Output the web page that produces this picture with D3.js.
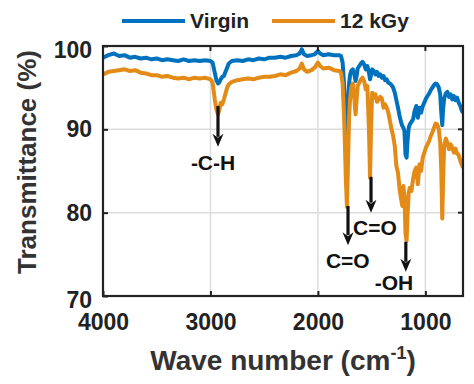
<!DOCTYPE html>
<html>
<head>
<meta charset="utf-8">
<script src="https://d3js.org/d3.v7.min.js"></script>
<style>
  body { margin: 0; background: #fff; }
  svg { display: block; font-family: "Liberation Sans", Arial, sans-serif; font-weight: bold; }
</style>
</head>
<body>
<svg id="chart"></svg>
<script>
// wavenumber grid (cm-1) shared by both spectra
var wavenumber = [
  4000, 3950, 3900, 3850, 3800, 3750, 3700, 3650, 3600, 3550,
  3500, 3450, 3400, 3350, 3300, 3250, 3200, 3150, 3100, 3050,
  3000, 2980, 2960, 2945, 2930, 2920, 2905, 2890, 2875, 2860,
  2845, 2830, 2800, 2750, 2700, 2650, 2600, 2550, 2500, 2450,
  2400, 2350, 2300, 2250, 2200, 2170, 2150, 2130, 2100, 2060,
  2030, 2000, 1980, 1950, 1900, 1850, 1800, 1785, 1770, 1755,
  1740, 1730, 1720, 1710, 1700, 1690, 1675, 1660, 1650, 1640,
  1630, 1615, 1600, 1585, 1570, 1555, 1540, 1525, 1515, 1505,
  1495, 1480, 1465, 1450, 1435, 1420, 1405, 1390, 1375, 1360,
  1345, 1330, 1315, 1300, 1285, 1270, 1255, 1240, 1225, 1215,
  1205, 1195, 1185, 1175, 1165, 1155, 1145, 1130, 1115, 1100,
  1085, 1070, 1055, 1040, 1025, 1010, 995, 980, 965, 950,
  935, 920, 905, 890, 875, 862, 852, 843, 835, 825,
  810, 795, 780, 765, 750, 735, 720, 705, 690, 675,
  660, 650
];
var virgin = [
  98.6, 98.9, 99.1, 98.8, 98.9, 98.6, 98.7, 98.5, 98.6, 98.4,
  98.5, 98.3, 98.4, 98.3, 98.2, 98.4, 98.2, 98.3, 98.2, 98.3,
  98.2, 98.0, 96.8, 95.9, 95.5, 95.6, 96.0, 96.3, 96.4, 96.9,
  97.4, 97.9, 98.2, 98.3, 98.2, 98.4, 98.3, 98.5, 98.4, 98.6,
  98.6, 98.7, 98.6, 98.8, 98.9, 99.1, 99.6, 99.0, 98.8, 98.9,
  99.0, 99.4, 99.1, 98.9, 99.0, 98.9, 98.9, 98.8, 98.0, 95.0,
  91.0, 89.5, 92.5, 95.5, 96.6, 97.0, 97.2, 96.5, 95.8, 96.4,
  97.3, 97.6, 97.9, 98.1, 97.8, 97.2, 97.6, 96.8, 96.0, 96.6,
  97.2, 97.0, 96.6, 96.9, 96.4, 96.6, 96.2, 96.4, 95.9, 96.0,
  95.6, 95.5, 95.3, 95.0, 94.4, 93.5, 92.6, 91.6, 90.8, 90.4,
  90.2, 89.8, 87.0, 86.6, 88.8, 90.2, 90.6, 90.9, 91.2, 92.2,
  92.8, 91.4, 92.6, 92.0, 92.8, 93.2, 93.7, 94.0, 94.3, 94.7,
  95.0, 95.3, 95.5, 95.4, 95.0, 94.2, 92.0, 90.5, 92.5, 93.7,
  94.3, 94.5, 93.9, 94.2, 93.6, 94.0, 93.5, 93.8, 93.2, 92.8,
  92.2, 92.0
];
var gy12 = [
  96.6, 96.9, 97.0, 97.1, 97.2, 97.0, 97.1, 96.8, 96.7, 96.5,
  96.5, 96.3, 96.4, 96.2, 96.1, 96.2, 96.0, 96.2, 96.1, 96.2,
  96.0, 95.6, 93.6, 92.4, 91.8, 92.2, 93.2, 93.0, 93.6, 94.3,
  95.0, 95.4, 95.7, 95.9, 96.0, 96.1, 96.0, 96.2, 96.3, 96.3,
  96.4, 96.6, 96.5, 96.8, 97.0, 97.3, 97.9, 97.2, 96.9, 97.1,
  97.4, 98.0, 97.6, 97.3, 97.4, 97.1, 97.0, 96.8, 95.5, 91.0,
  84.0, 80.7, 86.0, 91.5, 93.8, 95.0, 95.5, 93.5, 91.8, 93.5,
  95.2, 95.6, 96.0, 96.2, 95.8, 94.8, 95.2, 90.0, 84.2, 90.5,
  94.4, 93.8, 94.2, 93.3, 93.6, 93.9, 93.7, 92.6, 93.0, 92.6,
  92.0, 91.0, 90.0, 89.2, 88.0, 85.6, 84.8, 82.8, 81.6, 80.8,
  83.2, 82.0, 77.5, 76.6, 80.0, 82.4, 83.0, 82.6, 84.0, 85.0,
  85.4, 83.4, 85.8, 85.0, 86.6, 87.2, 87.8, 88.2, 88.6, 89.2,
  89.6, 90.2, 90.7, 90.6, 90.0, 88.4, 85.0, 79.3, 84.0, 88.1,
  88.9, 88.4, 87.6, 88.2, 87.8, 87.2, 87.7, 87.1, 86.9, 86.2,
  85.7, 85.4
];

var seriesNames = ["Virgin", "12 kGy"];
var seriesColors = ["#0072BD", "#E38A17"];
var xTicks = [4000, 3000, 2000, 1000];
var yTicks = [70, 80, 90, 100];

// peak annotations
var annoLabels = ["-C-H", "C=O", "C=O", "-OH"];
var annoWn = [2930, 1720, 1506, 1182];
var annoFrom = [92.8, 80.8, 84.3, 76.5];
var annoTo = [87.9, 76.1, 80.0, 72.9];
var annoLabelWn = [2976, 1722, 1469, 1292];
var annoLabelT = [85.1, 73.4, 77.3, 70.7];

var W = 474, H = 384;
var m = {left: 103, right: 11, top: 46, bottom: 88};

var svg = d3.select("#chart").attr("width", W).attr("height", H);

var x = d3.scaleLinear().domain([4000, 650]).range([m.left, W - m.right]);
var y = d3.scaleLinear().domain([70, 100]).range([H - m.bottom, m.top]);

svg.append("clipPath").attr("id", "clip")
  .append("rect")
  .attr("x", m.left).attr("y", m.top)
  .attr("width", W - m.left - m.right).attr("height", H - m.top - m.bottom);

// grid
svg.append("g").selectAll("line").data(xTicks.slice(1)).enter().append("line")
  .attr("x1", d => x(d)).attr("x2", d => x(d))
  .attr("y1", y(70)).attr("y2", y(100))
  .attr("stroke", "#dcdcdc").attr("stroke-width", 1.5);
svg.append("g").selectAll("line").data(yTicks.slice(1, 3)).enter().append("line")
  .attr("y1", d => y(d)).attr("y2", d => y(d))
  .attr("x1", x(4000)).attr("x2", x(650))
  .attr("stroke", "#dcdcdc").attr("stroke-width", 1.5);

// spectra
var line = d3.line().x(d => x(d[0])).y(d => y(d[1]));
var plot = svg.append("g").attr("clip-path", "url(#clip)");
[virgin, gy12].forEach(function(vals, i) {
  plot.append("path")
    .datum(wavenumber.map((w, j) => [w, vals[j]]))
    .attr("d", line)
    .attr("fill", "none")
    .attr("stroke", seriesColors[i])
    .attr("stroke-width", 4)
    .attr("stroke-linejoin", "round");
});

// axes with inward ticks
var xAxis = svg.append("g").attr("transform", "translate(0," + y(70) + ")")
  .call(d3.axisBottom(x).tickValues(xTicks).tickFormat(d3.format("d"))
    .tickSizeInner(-5).tickSizeOuter(0));
var yAxis = svg.append("g").attr("transform", "translate(" + x(4000) + ",0)")
  .call(d3.axisLeft(y).tickValues(yTicks).tickFormat(d3.format("d"))
    .tickSizeInner(-5).tickSizeOuter(0).tickPadding(11));
[xAxis, yAxis].forEach(function(a) {
  a.select(".domain").remove();
  a.selectAll(".tick line").attr("stroke", "#222").attr("stroke-width", 2);
  a.selectAll("text").attr("fill", "#222").style("font-size", "23px")
    .style("font-family", "Liberation Sans, Arial, sans-serif").style("font-weight", "bold");
});
xAxis.selectAll("text").attr("y", 34).attr("dy", "0");
yAxis.selectAll(".tick").filter(d => d == 70).select("text").attr("dy", "0.5em");
yAxis.selectAll(".tick").filter(d => d == 100).select("text").attr("dy", "0.5em");

// top/right ticks
svg.append("g").selectAll("line").data(xTicks.slice(1)).enter().append("line")
  .attr("x1", d => x(d)).attr("x2", d => x(d))
  .attr("y1", y(100)).attr("y2", y(100) + 5)
  .attr("stroke", "#222").attr("stroke-width", 2);
svg.append("g").selectAll("line").data(yTicks.slice(1, 3)).enter().append("line")
  .attr("y1", d => y(d)).attr("y2", d => y(d))
  .attr("x1", x(650)).attr("x2", x(650) - 5)
  .attr("stroke", "#222").attr("stroke-width", 2);

// frame
svg.append("rect")
  .attr("x", x(4000)).attr("y", y(100))
  .attr("width", x(650) - x(4000)).attr("height", y(70) - y(100))
  .attr("fill", "none").attr("stroke", "#222").attr("stroke-width", 2.2);

// annotations
var anno = svg.append("g");
annoLabels.forEach(function(lab, i) {
  var ax = x(annoWn[i]), y0 = y(annoFrom[i]), y1 = y(annoTo[i]);
  anno.append("line")
    .attr("x1", ax).attr("x2", ax).attr("y1", y0).attr("y2", y1 - 10)
    .attr("stroke", "#111").attr("stroke-width", 3.2);
  anno.append("path")
    .attr("d", "M" + (ax - 5.5) + "," + (y1 - 13) + "L" + ax + "," + y1 + "L" + (ax + 5.5) + "," + (y1 - 13) + "L" + ax + "," + (y1 - 9) + "Z")
    .attr("fill", "#111");
  anno.append("text")
    .attr("x", x(annoLabelWn[i])).attr("y", y(annoLabelT[i]))
    .attr("text-anchor", "middle")
    .style("font-size", "21px").attr("fill", "#111")
    .text(lab);
});

// axis titles
svg.append("text")
  .attr("x", 283).attr("y", 370)
  .attr("text-anchor", "middle")
  .style("font-size", "28px").attr("fill", "#333")
  .html('Wave number (cm<tspan dy="-11" font-size="18px">-1</tspan><tspan dy="11">)</tspan>');
svg.append("text")
  .attr("transform", "translate(36,162) rotate(-90)")
  .attr("text-anchor", "middle")
  .style("font-size", "26px").attr("fill", "#333")
  .text("Transmittance (%)");

// legend
var legX = [122, 272];
seriesNames.forEach(function(name, i) {
  svg.append("line")
    .attr("x1", legX[i]).attr("x2", legX[i] + 63)
    .attr("y1", 21).attr("y2", 21)
    .attr("stroke", seriesColors[i]).attr("stroke-width", 4);
  svg.append("text")
    .attr("x", legX[i] + 68).attr("y", 28)
    .style("font-size", "21px").attr("fill", "#222")
    .text(name);
});
</script>
</body>
</html>
